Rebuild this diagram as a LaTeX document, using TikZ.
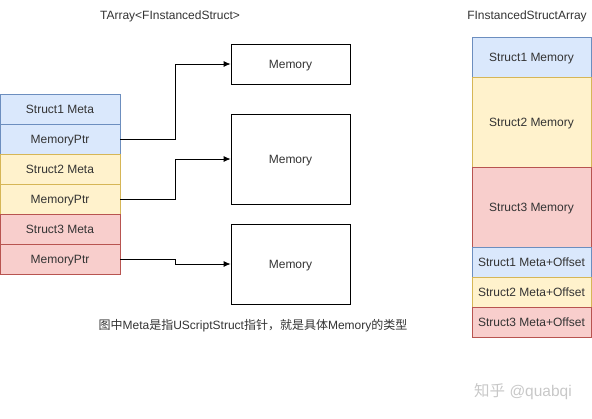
\documentclass[tikz,border=0pt]{standalone}
\usepackage{fontspec}
\setmainfont{Liberation Sans}
\newfontfamily\cjkfont{Noto Sans CJK SC}
\definecolor{blueF}{HTML}{DAE8FC}
\definecolor{blueD}{HTML}{6C8EBF}
\definecolor{yellowF}{HTML}{FFF2CC}
\definecolor{yellowD}{HTML}{D6B656}
\definecolor{redF}{HTML}{F8CECC}
\definecolor{redD}{HTML}{B85450}
\definecolor{markGray}{HTML}{C8C8C8}
\usetikzlibrary{arrows.meta}

\begin{document}
\begin{tikzpicture}[>=latex, x=1pt, y=-1pt,
    every node/.style={font=\fontsize{12}{14}\selectfont, text=black!80, text height=8.6pt, text depth=0.4pt},
    cell/.style={rectangle,inner sep=0pt,minimum width=120pt,minimum height=30pt,line width=0.8pt},
    blueCell/.style={cell,fill=blueF,draw=blueD},
    yellowCell/.style={cell,fill=yellowF,draw=yellowD},
    redCell/.style={cell,fill=redF,draw=redD},
    memBox/.style={rectangle,inner sep=0pt,minimum width=119pt,draw=black,line width=0.8pt},
    connection/.style={draw=black,line width=0.8pt,-{Latex[length=7pt,width=6pt]}},
]

	\useasboundingbox (0,0) rectangle (592,418);

	\def\bend{55};

	% titles
	\node(t1) at(170,15){TArray<FInstancedStruct>};
	\node(t2) at(527,15){FInstancedStructArray};

	% TArray elements
	\node[blueCell](m1) at(60,109){Struct1 Meta};
	\node[blueCell](p1) at(60,139){MemoryPtr};
	\node[yellowCell](m2) at(60,169){Struct2 Meta};
	\node[yellowCell](p2) at(60,199){MemoryPtr};
	\node[redCell](m3) at(60,229){Struct3 Meta};
	\node[redCell](p3) at(60,259){MemoryPtr};

	% separate memory blocks
	\node[memBox,minimum height=40pt](b1) at(290.5,64){Memory};
	\node[memBox,minimum height=90pt](b2) at(290.5,159){Memory};
	\node[memBox,minimum height=80pt](b3) at(290.5,264){Memory};

	\draw[connection](p1.east)--++(\bend,0)|-(b1.west);
	\draw[connection](p2.east)--++(\bend,0)|-(b2.west);
	\draw[connection](p3.east)--++(\bend,0)|-(b3.west);

	% FInstancedStructArray
	\node[blueCell,minimum width=119pt,minimum height=40pt](s1) at(531.5,57){Struct1 Memory};
	\node[yellowCell,minimum width=119pt,minimum height=90pt](s2) at(531.5,122){Struct2 Memory};
	\node[redCell,minimum width=119pt,minimum height=80pt](s3) at(531.5,207){Struct3 Memory};
	\node[blueCell,minimum width=119pt](o1) at(531.5,262){Struct1 Meta+Offset};
	\node[yellowCell,minimum width=119pt](o2) at(531.5,292){Struct2 Meta+Offset};
	\node[redCell,minimum width=119pt](o3) at(531.5,322){Struct3 Meta+Offset};

	\node(note) at(253,325){{\cjkfont 图中}Meta{\cjkfont 是指}UScriptStruct{\cjkfont 指针，就是具体}Memory{\cjkfont 的类型}};
	\node[text=markGray,font=\fontsize{15.5}{18}\selectfont](mark) at(523,392){{\cjkfont 知乎} @quabqi};

\end{tikzpicture}
\end{document}
